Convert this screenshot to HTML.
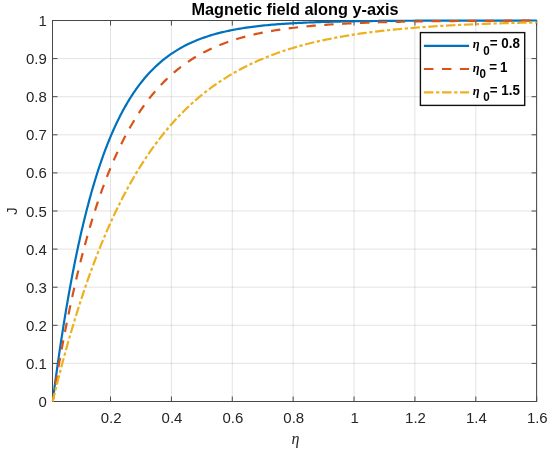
<!DOCTYPE html>
<html><head><meta charset="utf-8"><title>Magnetic field along y-axis</title>
<style>
html,body{margin:0;padding:0;background:#fff;}
svg{display:block;}
text{font-family:"Liberation Sans",Arial,Helvetica,sans-serif;}
.tl text{font-size:15px;fill:#262626;}
.grid line{stroke:rgba(38,38,38,0.125);stroke-width:1;}
.ticks line{stroke:#484848;stroke-width:1;}
.leg{font-size:13.4px;font-weight:bold;fill:#000;}
.eta{font-family:"Liberation Serif","DejaVu Serif",serif;font-style:italic;}
</style></head><body>
<svg width="550" height="454" viewBox="0 0 550 454">
<rect x="0" y="0" width="550" height="454" fill="#fff"/>
<g class="grid">
<line x1="110.53" y1="20.5" x2="110.53" y2="401.5"/>
<line x1="171.41" y1="20.5" x2="171.41" y2="401.5"/>
<line x1="232.29" y1="20.5" x2="232.29" y2="401.5"/>
<line x1="293.17" y1="20.5" x2="293.17" y2="401.5"/>
<line x1="354.05" y1="20.5" x2="354.05" y2="401.5"/>
<line x1="414.93" y1="20.5" x2="414.93" y2="401.5"/>
<line x1="475.81" y1="20.5" x2="475.81" y2="401.5"/>
<line x1="536.69" y1="20.5" x2="536.69" y2="401.5"/>
<line x1="52.5" y1="401.50" x2="536.6" y2="401.50"/>
<line x1="52.5" y1="363.40" x2="536.6" y2="363.40"/>
<line x1="52.5" y1="325.30" x2="536.6" y2="325.30"/>
<line x1="52.5" y1="287.20" x2="536.6" y2="287.20"/>
<line x1="52.5" y1="249.10" x2="536.6" y2="249.10"/>
<line x1="52.5" y1="211.00" x2="536.6" y2="211.00"/>
<line x1="52.5" y1="172.90" x2="536.6" y2="172.90"/>
<line x1="52.5" y1="134.80" x2="536.6" y2="134.80"/>
<line x1="52.5" y1="96.70" x2="536.6" y2="96.70"/>
<line x1="52.5" y1="58.60" x2="536.6" y2="58.60"/>
<line x1="52.5" y1="20.50" x2="536.6" y2="20.50"/>
</g>
<g class="ticks">
<line x1="110.53" y1="401.5" x2="110.53" y2="396.5"/>
<line x1="110.53" y1="20.5" x2="110.53" y2="25.5"/>
<line x1="171.41" y1="401.5" x2="171.41" y2="396.5"/>
<line x1="171.41" y1="20.5" x2="171.41" y2="25.5"/>
<line x1="232.29" y1="401.5" x2="232.29" y2="396.5"/>
<line x1="232.29" y1="20.5" x2="232.29" y2="25.5"/>
<line x1="293.17" y1="401.5" x2="293.17" y2="396.5"/>
<line x1="293.17" y1="20.5" x2="293.17" y2="25.5"/>
<line x1="354.05" y1="401.5" x2="354.05" y2="396.5"/>
<line x1="354.05" y1="20.5" x2="354.05" y2="25.5"/>
<line x1="414.93" y1="401.5" x2="414.93" y2="396.5"/>
<line x1="414.93" y1="20.5" x2="414.93" y2="25.5"/>
<line x1="475.81" y1="401.5" x2="475.81" y2="396.5"/>
<line x1="475.81" y1="20.5" x2="475.81" y2="25.5"/>
<line x1="536.69" y1="401.5" x2="536.69" y2="396.5"/>
<line x1="536.69" y1="20.5" x2="536.69" y2="25.5"/>
<line x1="52.5" y1="401.50" x2="57.5" y2="401.50"/>
<line x1="536.6" y1="401.50" x2="531.6" y2="401.50"/>
<line x1="52.5" y1="363.40" x2="57.5" y2="363.40"/>
<line x1="536.6" y1="363.40" x2="531.6" y2="363.40"/>
<line x1="52.5" y1="325.30" x2="57.5" y2="325.30"/>
<line x1="536.6" y1="325.30" x2="531.6" y2="325.30"/>
<line x1="52.5" y1="287.20" x2="57.5" y2="287.20"/>
<line x1="536.6" y1="287.20" x2="531.6" y2="287.20"/>
<line x1="52.5" y1="249.10" x2="57.5" y2="249.10"/>
<line x1="536.6" y1="249.10" x2="531.6" y2="249.10"/>
<line x1="52.5" y1="211.00" x2="57.5" y2="211.00"/>
<line x1="536.6" y1="211.00" x2="531.6" y2="211.00"/>
<line x1="52.5" y1="172.90" x2="57.5" y2="172.90"/>
<line x1="536.6" y1="172.90" x2="531.6" y2="172.90"/>
<line x1="52.5" y1="134.80" x2="57.5" y2="134.80"/>
<line x1="536.6" y1="134.80" x2="531.6" y2="134.80"/>
<line x1="52.5" y1="96.70" x2="57.5" y2="96.70"/>
<line x1="536.6" y1="96.70" x2="531.6" y2="96.70"/>
<line x1="52.5" y1="58.60" x2="57.5" y2="58.60"/>
<line x1="536.6" y1="58.60" x2="531.6" y2="58.60"/>
<line x1="52.5" y1="20.50" x2="57.5" y2="20.50"/>
<line x1="536.6" y1="20.50" x2="531.6" y2="20.50"/>
</g>
<rect x="52.5" y="20.5" width="484.1" height="381.0" fill="none" stroke="#484848" stroke-width="1"/>
<clipPath id="c"><rect x="51.8" y="19.1" width="485.5" height="383.6"/></clipPath>
<g clip-path="url(#c)" fill="none" stroke-width="2.2" stroke-linejoin="round">
<path d="M52.69,401.50 L53.44,395.74 L54.18,390.07 L54.92,384.48 L55.66,378.98 L56.40,373.56 L57.14,368.23 L57.89,362.97 L58.63,357.79 L59.37,352.69 L60.11,347.67 L60.85,342.73 L61.60,337.86 L62.34,333.06 L63.08,328.34 L63.82,323.68 L64.56,319.10 L65.30,314.59 L66.05,310.14 L66.79,305.76 L67.53,301.45 L68.27,297.20 L69.01,293.02 L69.76,288.90 L70.50,284.84 L71.24,280.85 L71.98,276.91 L72.72,273.04 L73.46,269.22 L74.21,265.46 L74.95,261.76 L75.69,258.11 L76.43,254.52 L77.17,250.98 L77.92,247.50 L78.66,244.07 L79.40,240.69 L80.14,237.36 L80.88,234.08 L81.62,230.85 L82.37,227.67 L83.11,224.54 L83.85,221.46 L84.59,218.42 L85.33,215.43 L86.08,212.48 L86.82,209.58 L87.56,206.72 L88.30,203.91 L89.04,201.13 L89.78,198.40 L90.53,195.71 L91.27,193.07 L92.01,190.46 L92.75,187.89 L93.49,185.36 L94.24,182.87 L94.98,180.41 L95.72,178.00 L96.46,175.61 L97.20,173.27 L97.94,170.96 L98.69,168.69 L99.43,166.45 L100.17,164.24 L100.91,162.07 L101.65,159.93 L102.40,157.82 L103.14,155.74 L103.88,153.70 L104.62,151.69 L105.36,149.70 L106.10,147.75 L106.85,145.83 L107.59,143.93 L108.33,142.07 L109.07,140.23 L109.81,138.42 L110.56,136.64 L111.30,134.88 L112.04,133.15 L112.78,131.45 L113.52,129.77 L114.26,128.12 L115.01,126.49 L115.75,124.89 L116.49,123.31 L117.23,121.76 L117.97,120.23 L118.72,118.72 L119.46,117.24 L120.20,115.78 L120.94,114.34 L121.68,112.92 L122.42,111.52 L123.17,110.14 L123.91,108.79 L124.65,107.45 L125.39,106.14 L126.13,104.85 L126.88,103.57 L127.62,102.31 L128.36,101.08 L129.10,99.86 L129.84,98.66 L130.58,97.48 L131.33,96.32 L132.07,95.17 L132.81,94.04 L133.55,92.93 L134.29,91.83 L135.04,90.76 L135.78,89.69 L136.52,88.65 L137.26,87.62 L138.00,86.60 L138.74,85.60 L139.49,84.62 L140.23,83.65 L140.97,82.70 L142.96,80.21 L144.95,77.82 L146.94,75.53 L148.92,73.32 L150.91,71.21 L152.90,69.18 L154.89,67.24 L156.88,65.37 L158.87,63.57 L160.86,61.85 L162.84,60.19 L164.83,58.61 L166.82,57.08 L168.81,55.62 L170.80,54.21 L172.79,52.86 L174.78,51.57 L176.76,50.33 L178.75,49.13 L180.74,47.99 L182.73,46.89 L184.72,45.83 L186.71,44.82 L188.70,43.85 L190.68,42.91 L192.67,42.01 L194.66,41.15 L196.65,40.33 L198.64,39.53 L200.63,38.77 L202.61,38.04 L204.60,37.34 L206.59,36.67 L208.58,36.02 L210.57,35.40 L212.56,34.80 L214.55,34.23 L216.53,33.68 L218.52,33.15 L220.51,32.65 L222.50,32.16 L224.49,31.70 L226.48,31.25 L228.47,30.82 L230.45,30.40 L232.44,30.01 L234.43,29.63 L236.42,29.26 L238.41,28.91 L240.40,28.58 L242.39,28.25 L244.37,27.94 L246.36,27.64 L248.35,27.36 L250.34,27.08 L252.33,26.82 L254.32,26.57 L256.31,26.33 L258.29,26.09 L260.28,25.87 L262.27,25.65 L264.26,25.45 L266.25,25.25 L268.24,25.06 L270.23,24.88 L272.21,24.70 L274.20,24.53 L276.19,24.37 L278.18,24.22 L280.17,24.07 L282.16,23.93 L284.15,23.79 L286.13,23.66 L288.12,23.53 L290.11,23.41 L292.10,23.29 L294.09,23.18 L296.08,23.07 L298.06,22.97 L300.05,22.87 L302.04,22.78 L304.03,22.69 L306.02,22.60 L308.01,22.52 L310.00,22.43 L311.98,22.36 L313.97,22.28 L315.96,22.21 L317.95,22.14 L319.94,22.08 L321.93,22.01 L323.92,21.95 L325.90,21.90 L327.89,21.84 L329.88,21.79 L331.87,21.73 L333.86,21.69 L335.85,21.64 L337.84,21.59 L339.82,21.55 L341.81,21.51 L343.80,21.47 L345.79,21.43 L347.78,21.39 L349.77,21.35 L351.76,21.32 L353.74,21.29 L355.73,21.26 L357.72,21.23 L359.71,21.20 L361.70,21.17 L363.69,21.14 L365.68,21.12 L367.66,21.09 L369.65,21.07 L371.64,21.05 L373.63,21.02 L375.62,21.00 L377.61,20.98 L379.60,20.96 L381.58,20.94 L383.57,20.93 L385.56,20.91 L387.55,20.89 L389.54,20.88 L391.53,20.86 L393.51,20.85 L395.50,20.83 L397.49,20.82 L399.48,20.81 L401.47,20.80 L403.46,20.78 L405.45,20.77 L407.43,20.76 L409.42,20.75 L411.41,20.74 L413.40,20.73 L415.39,20.72 L417.38,20.71 L419.37,20.70 L421.35,20.70 L423.34,20.69 L425.33,20.68 L427.32,20.67 L429.31,20.67 L431.30,20.66 L433.29,20.65 L435.27,20.65 L437.26,20.64 L439.25,20.64 L441.24,20.63 L443.23,20.63 L445.22,20.62 L447.21,20.62 L449.19,20.61 L451.18,20.61 L453.17,20.60 L455.16,20.60 L457.15,20.59 L459.14,20.59 L461.13,20.59 L463.11,20.58 L465.10,20.58 L467.09,20.58 L469.08,20.57 L471.07,20.57 L473.06,20.57 L475.05,20.57 L477.03,20.56 L479.02,20.56 L481.01,20.56 L483.00,20.56 L484.99,20.55 L486.98,20.55 L488.96,20.55 L490.95,20.55 L492.94,20.55 L494.93,20.54 L496.92,20.54 L498.91,20.54 L500.90,20.54 L502.88,20.54 L504.87,20.54 L506.86,20.53 L508.85,20.53 L510.84,20.53 L512.83,20.53 L514.82,20.53 L516.80,20.53 L518.79,20.53 L520.78,20.53 L522.77,20.52 L524.76,20.52 L526.75,20.52 L528.74,20.52 L530.72,20.52 L532.71,20.52 L534.70,20.52 L536.69,20.52" stroke="#0072bd"/>
<path d="M52.69,401.50 L53.44,396.89 L54.18,392.33 L54.92,387.82 L55.66,383.38 L56.40,378.98 L57.14,374.64 L57.89,370.35 L58.63,366.11 L59.37,361.93 L60.11,357.79 L60.85,353.71 L61.60,349.67 L62.34,345.69 L63.08,341.75 L63.82,337.86 L64.56,334.01 L65.30,330.22 L66.05,326.47 L66.79,322.76 L67.53,319.10 L68.27,315.48 L69.01,311.91 L69.76,308.38 L70.50,304.89 L71.24,301.45 L71.98,298.05 L72.72,294.69 L73.46,291.37 L74.21,288.09 L74.95,284.84 L75.69,281.64 L76.43,278.48 L77.17,275.36 L77.92,272.27 L78.66,269.22 L79.40,266.21 L80.14,263.23 L80.88,260.29 L81.62,257.39 L82.37,254.52 L83.11,251.69 L83.85,248.89 L84.59,246.12 L85.33,243.39 L86.08,240.69 L86.82,238.02 L87.56,235.39 L88.30,232.78 L89.04,230.21 L89.78,227.67 L90.53,225.16 L91.27,222.69 L92.01,220.24 L92.75,217.82 L93.49,215.43 L94.24,213.07 L94.98,210.74 L95.72,208.43 L96.46,206.16 L97.20,203.91 L97.94,201.69 L98.69,199.49 L99.43,197.32 L100.17,195.18 L100.91,193.07 L101.65,190.98 L102.40,188.91 L103.14,186.87 L103.88,184.86 L104.62,182.87 L105.36,180.90 L106.10,178.96 L106.85,177.04 L107.59,175.14 L108.33,173.27 L109.07,171.42 L109.81,169.59 L110.56,167.79 L111.30,166.00 L112.04,164.24 L112.78,162.50 L113.52,160.78 L114.26,159.08 L115.01,157.40 L115.75,155.74 L116.49,154.11 L117.23,152.49 L117.97,150.89 L118.72,149.31 L119.46,147.75 L120.20,146.21 L120.94,144.69 L121.68,143.18 L122.42,141.70 L123.17,140.23 L123.91,138.78 L124.65,137.35 L125.39,135.93 L126.13,134.53 L126.88,133.15 L127.62,131.79 L128.36,130.44 L129.10,129.11 L129.84,127.79 L130.58,126.49 L131.33,125.21 L132.07,123.94 L132.81,122.69 L133.55,121.45 L134.29,120.23 L135.04,119.02 L135.78,117.83 L136.52,116.65 L137.26,115.49 L138.00,114.34 L138.74,113.20 L139.49,112.08 L140.23,110.97 L140.97,109.87 L142.96,107.00 L144.95,104.22 L146.94,101.53 L148.92,98.93 L150.91,96.41 L152.90,93.97 L154.89,91.60 L156.88,89.32 L158.87,87.11 L160.86,84.97 L162.84,82.90 L164.83,80.89 L166.82,78.95 L168.81,77.07 L170.80,75.25 L172.79,73.49 L174.78,71.79 L176.76,70.14 L178.75,68.55 L180.74,67.00 L182.73,65.51 L184.72,64.06 L186.71,62.66 L188.70,61.31 L190.68,60.00 L192.67,58.73 L194.66,57.50 L196.65,56.31 L198.64,55.16 L200.63,54.05 L202.61,52.97 L204.60,51.92 L206.59,50.91 L208.58,49.94 L210.57,48.99 L212.56,48.08 L214.55,47.19 L216.53,46.33 L218.52,45.50 L220.51,44.70 L222.50,43.92 L224.49,43.17 L226.48,42.44 L228.47,41.73 L230.45,41.05 L232.44,40.39 L234.43,39.75 L236.42,39.13 L238.41,38.53 L240.40,37.96 L242.39,37.39 L244.37,36.85 L246.36,36.33 L248.35,35.82 L250.34,35.33 L252.33,34.85 L254.32,34.39 L256.31,33.94 L258.29,33.51 L260.28,33.09 L262.27,32.69 L264.26,32.29 L266.25,31.92 L268.24,31.55 L270.23,31.19 L272.21,30.85 L274.20,30.52 L276.19,30.20 L278.18,29.88 L280.17,29.58 L282.16,29.29 L284.15,29.01 L286.13,28.73 L288.12,28.47 L290.11,28.21 L292.10,27.97 L294.09,27.73 L296.08,27.49 L298.06,27.27 L300.05,27.05 L302.04,26.84 L304.03,26.64 L306.02,26.44 L308.01,26.25 L310.00,26.06 L311.98,25.89 L313.97,25.71 L315.96,25.55 L317.95,25.38 L319.94,25.23 L321.93,25.07 L323.92,24.93 L325.90,24.78 L327.89,24.65 L329.88,24.51 L331.87,24.38 L333.86,24.26 L335.85,24.14 L337.84,24.02 L339.82,23.91 L341.81,23.80 L343.80,23.69 L345.79,23.59 L347.78,23.49 L349.77,23.40 L351.76,23.30 L353.74,23.21 L355.73,23.13 L357.72,23.04 L359.71,22.96 L361.70,22.88 L363.69,22.80 L365.68,22.73 L367.66,22.66 L369.65,22.59 L371.64,22.52 L373.63,22.46 L375.62,22.39 L377.61,22.33 L379.60,22.27 L381.58,22.22 L383.57,22.16 L385.56,22.11 L387.55,22.06 L389.54,22.01 L391.53,21.96 L393.51,21.91 L395.50,21.87 L397.49,21.82 L399.48,21.78 L401.47,21.74 L403.46,21.70 L405.45,21.66 L407.43,21.62 L409.42,21.59 L411.41,21.55 L413.40,21.52 L415.39,21.49 L417.38,21.45 L419.37,21.42 L421.35,21.39 L423.34,21.36 L425.33,21.34 L427.32,21.31 L429.31,21.28 L431.30,21.26 L433.29,21.23 L435.27,21.21 L437.26,21.19 L439.25,21.17 L441.24,21.14 L443.23,21.12 L445.22,21.10 L447.21,21.08 L449.19,21.07 L451.18,21.05 L453.17,21.03 L455.16,21.01 L457.15,21.00 L459.14,20.98 L461.13,20.96 L463.11,20.95 L465.10,20.94 L467.09,20.92 L469.08,20.91 L471.07,20.89 L473.06,20.88 L475.05,20.87 L477.03,20.86 L479.02,20.85 L481.01,20.84 L483.00,20.82 L484.99,20.81 L486.98,20.80 L488.96,20.79 L490.95,20.78 L492.94,20.78 L494.93,20.77 L496.92,20.76 L498.91,20.75 L500.90,20.74 L502.88,20.73 L504.87,20.73 L506.86,20.72 L508.85,20.71 L510.84,20.71 L512.83,20.70 L514.82,20.69 L516.80,20.69 L518.79,20.68 L520.78,20.67 L522.77,20.67 L524.76,20.66 L526.75,20.66 L528.74,20.65 L530.72,20.65 L532.71,20.64 L534.70,20.64 L536.69,20.63" stroke="#d95319" stroke-dasharray="9.4 8.47" stroke-dashoffset="0.9"/>
<path d="M52.69,401.50 L53.44,398.42 L54.18,395.36 L54.92,392.33 L55.66,389.32 L56.40,386.34 L57.14,383.38 L57.89,380.44 L58.63,377.53 L59.37,374.64 L60.11,371.77 L60.85,368.93 L61.60,366.11 L62.34,363.32 L63.08,360.54 L63.82,357.79 L64.56,355.06 L65.30,352.36 L66.05,349.67 L66.79,347.01 L67.53,344.37 L68.27,341.75 L69.01,339.15 L69.76,336.57 L70.50,334.01 L71.24,331.48 L71.98,328.96 L72.72,326.47 L73.46,323.99 L74.21,321.53 L74.95,319.10 L75.69,316.68 L76.43,314.29 L77.17,311.91 L77.92,309.55 L78.66,307.21 L79.40,304.89 L80.14,302.59 L80.88,300.31 L81.62,298.05 L82.37,295.80 L83.11,293.57 L83.85,291.37 L84.59,289.17 L85.33,287.00 L86.08,284.84 L86.82,282.71 L87.56,280.58 L88.30,278.48 L89.04,276.39 L89.78,274.32 L90.53,272.27 L91.27,270.23 L92.01,268.21 L92.75,266.21 L93.49,264.22 L94.24,262.25 L94.98,260.29 L95.72,258.35 L96.46,256.43 L97.20,254.52 L97.94,252.63 L98.69,250.75 L99.43,248.89 L100.17,247.04 L100.91,245.20 L101.65,243.39 L102.40,241.58 L103.14,239.80 L103.88,238.02 L104.62,236.26 L105.36,234.52 L106.10,232.78 L106.85,231.07 L107.59,229.36 L108.33,227.67 L109.07,226.00 L109.81,224.33 L110.56,222.69 L111.30,221.05 L112.04,219.43 L112.78,217.82 L113.52,216.22 L114.26,214.64 L115.01,213.07 L115.75,211.51 L116.49,209.96 L117.23,208.43 L117.97,206.91 L118.72,205.40 L119.46,203.91 L120.20,202.42 L120.94,200.95 L121.68,199.49 L122.42,198.04 L123.17,196.61 L123.91,195.18 L124.65,193.77 L125.39,192.37 L126.13,190.98 L126.88,189.60 L127.62,188.23 L128.36,186.87 L129.10,185.53 L129.84,184.19 L130.58,182.87 L131.33,181.55 L132.07,180.25 L132.81,178.96 L133.55,177.68 L134.29,176.40 L135.04,175.14 L135.78,173.89 L136.52,172.65 L137.26,171.42 L138.00,170.20 L138.74,168.99 L139.49,167.79 L140.23,166.59 L140.97,165.41 L142.96,162.29 L144.95,159.24 L146.94,156.25 L148.92,153.32 L150.91,150.46 L152.90,147.66 L154.89,144.93 L156.88,142.24 L158.87,139.62 L160.86,137.06 L162.84,134.55 L164.83,132.09 L166.82,129.69 L168.81,127.33 L170.80,125.03 L172.79,122.78 L174.78,120.58 L176.76,118.42 L178.75,116.31 L180.74,114.25 L182.73,112.23 L184.72,110.25 L186.71,108.32 L188.70,106.43 L190.68,104.58 L192.67,102.77 L194.66,100.99 L196.65,99.26 L198.64,97.56 L200.63,95.90 L202.61,94.28 L204.60,92.69 L206.59,91.14 L208.58,89.61 L210.57,88.13 L212.56,86.67 L214.55,85.24 L216.53,83.85 L218.52,82.48 L220.51,81.15 L222.50,79.84 L224.49,78.56 L226.48,77.31 L228.47,76.09 L230.45,74.89 L232.44,73.72 L234.43,72.57 L236.42,71.45 L238.41,70.36 L240.40,69.28 L242.39,68.23 L244.37,67.20 L246.36,66.20 L248.35,65.21 L250.34,64.25 L252.33,63.31 L254.32,62.38 L256.31,61.48 L258.29,60.60 L260.28,59.74 L262.27,58.89 L264.26,58.06 L266.25,57.25 L268.24,56.46 L270.23,55.69 L272.21,54.93 L274.20,54.19 L276.19,53.46 L278.18,52.75 L280.17,52.06 L282.16,51.38 L284.15,50.71 L286.13,50.06 L288.12,49.43 L290.11,48.80 L292.10,48.19 L294.09,47.60 L296.08,47.01 L298.06,46.44 L300.05,45.88 L302.04,45.34 L304.03,44.80 L306.02,44.28 L308.01,43.77 L310.00,43.26 L311.98,42.77 L313.97,42.29 L315.96,41.83 L317.95,41.37 L319.94,40.92 L321.93,40.48 L323.92,40.05 L325.90,39.63 L327.89,39.21 L329.88,38.81 L331.87,38.42 L333.86,38.03 L335.85,37.65 L337.84,37.28 L339.82,36.92 L341.81,36.57 L343.80,36.22 L345.79,35.88 L347.78,35.55 L349.77,35.23 L351.76,34.91 L353.74,34.60 L355.73,34.30 L357.72,34.00 L359.71,33.71 L361.70,33.42 L363.69,33.15 L365.68,32.87 L367.66,32.61 L369.65,32.35 L371.64,32.09 L373.63,31.84 L375.62,31.60 L377.61,31.36 L379.60,31.12 L381.58,30.89 L383.57,30.67 L385.56,30.45 L387.55,30.24 L389.54,30.03 L391.53,29.82 L393.51,29.62 L395.50,29.43 L397.49,29.23 L399.48,29.04 L401.47,28.86 L403.46,28.68 L405.45,28.50 L407.43,28.33 L409.42,28.16 L411.41,28.00 L413.40,27.84 L415.39,27.68 L417.38,27.52 L419.37,27.37 L421.35,27.22 L423.34,27.08 L425.33,26.94 L427.32,26.80 L429.31,26.66 L431.30,26.53 L433.29,26.40 L435.27,26.27 L437.26,26.15 L439.25,26.03 L441.24,25.91 L443.23,25.79 L445.22,25.68 L447.21,25.57 L449.19,25.46 L451.18,25.35 L453.17,25.25 L455.16,25.14 L457.15,25.04 L459.14,24.95 L461.13,24.85 L463.11,24.76 L465.10,24.67 L467.09,24.58 L469.08,24.49 L471.07,24.40 L473.06,24.32 L475.05,24.24 L477.03,24.15 L479.02,24.08 L481.01,24.00 L483.00,23.92 L484.99,23.85 L486.98,23.78 L488.96,23.71 L490.95,23.64 L492.94,23.57 L494.93,23.50 L496.92,23.44 L498.91,23.38 L500.90,23.31 L502.88,23.25 L504.87,23.19 L506.86,23.14 L508.85,23.08 L510.84,23.02 L512.83,22.97 L514.82,22.92 L516.80,22.86 L518.79,22.81 L520.78,22.76 L522.77,22.71 L524.76,22.67 L526.75,22.62 L528.74,22.57 L530.72,22.53 L532.71,22.49 L534.70,22.44 L536.69,22.40" stroke="#edb120" stroke-dasharray="9.4 2.6 3.2 2.6" stroke-dashoffset="0.3"/>
</g>
<g class="tl">
<text transform="translate(111.13,423.0) scale(1,0.99)" text-anchor="middle">0.2</text>
<text transform="translate(172.01,423.0) scale(1,0.99)" text-anchor="middle">0.4</text>
<text transform="translate(232.89,423.0) scale(1,0.99)" text-anchor="middle">0.6</text>
<text transform="translate(293.77,423.0) scale(1,0.99)" text-anchor="middle">0.8</text>
<text transform="translate(354.65,423.0) scale(1,0.99)" text-anchor="middle">1</text>
<text transform="translate(415.53,423.0) scale(1,0.99)" text-anchor="middle">1.2</text>
<text transform="translate(476.41,423.0) scale(1,0.99)" text-anchor="middle">1.4</text>
<text transform="translate(537.29,423.0) scale(1,0.99)" text-anchor="middle">1.6</text>
<text transform="translate(46.8,407.00) scale(1,0.99)" text-anchor="end">0</text>
<text transform="translate(46.8,368.90) scale(1,0.99)" text-anchor="end">0.1</text>
<text transform="translate(46.8,330.80) scale(1,0.99)" text-anchor="end">0.2</text>
<text transform="translate(46.8,292.70) scale(1,0.99)" text-anchor="end">0.3</text>
<text transform="translate(46.8,254.60) scale(1,0.99)" text-anchor="end">0.4</text>
<text transform="translate(46.8,216.50) scale(1,0.99)" text-anchor="end">0.5</text>
<text transform="translate(46.8,178.40) scale(1,0.99)" text-anchor="end">0.6</text>
<text transform="translate(46.8,140.30) scale(1,0.99)" text-anchor="end">0.7</text>
<text transform="translate(46.8,102.20) scale(1,0.99)" text-anchor="end">0.8</text>
<text transform="translate(46.8,64.10) scale(1,0.99)" text-anchor="end">0.9</text>
<text transform="translate(46.8,26.00) scale(1,0.99)" text-anchor="end">1</text>
</g>
<text x="295" y="14.6" text-anchor="middle" font-size="16.3" font-weight="bold" fill="#000">Magnetic field along y-axis</text>
<text transform="translate(17.4,211) rotate(-90)" text-anchor="middle" font-size="14.8" fill="#262626">J</text>
<text x="295.5" y="444.3" text-anchor="middle" font-size="16" fill="#262626" class="eta">η</text>
<rect x="420.4" y="32.6" width="104.3" height="72.8" fill="#fff" stroke="#111" stroke-width="1.4"/>
<g fill="none" stroke-width="2.2">
<line x1="423.9" y1="45.8" x2="469.1" y2="45.8" stroke="#0072bd"/>
<line x1="423.9" y1="69" x2="469.1" y2="69" stroke="#d95319" stroke-dasharray="9.5 8.5"/>
<line x1="423.9" y1="92.3" x2="469.1" y2="92.3" stroke="#edb120" stroke-dasharray="9.5 2.7 3.2 2.7"/>
</g>
<g class="leg">
<text transform="translate(472.7,48.3) scale(1,1.07)"><tspan class="eta" font-size="12.6">η</tspan><tspan dx="3.7" dy="5.8" font-size="11.6">0</tspan><tspan dy="-5.8">= 0.8</tspan></text>
<text transform="translate(472.7,71.5) scale(1,1.07)"><tspan class="eta" font-size="12.6">η</tspan><tspan dx="-0.2" dy="5.8" font-size="11.6">0</tspan><tspan dy="-5.8" dx="-0.4"> = </tspan><tspan dx="-0.8">1</tspan></text>
<text transform="translate(472.7,94.8) scale(1,1.07)"><tspan class="eta" font-size="12.6">η</tspan><tspan dx="3.7" dy="5.8" font-size="11.6">0</tspan><tspan dy="-5.8">= 1.5</tspan></text>
</g>
</svg>
</body></html>
